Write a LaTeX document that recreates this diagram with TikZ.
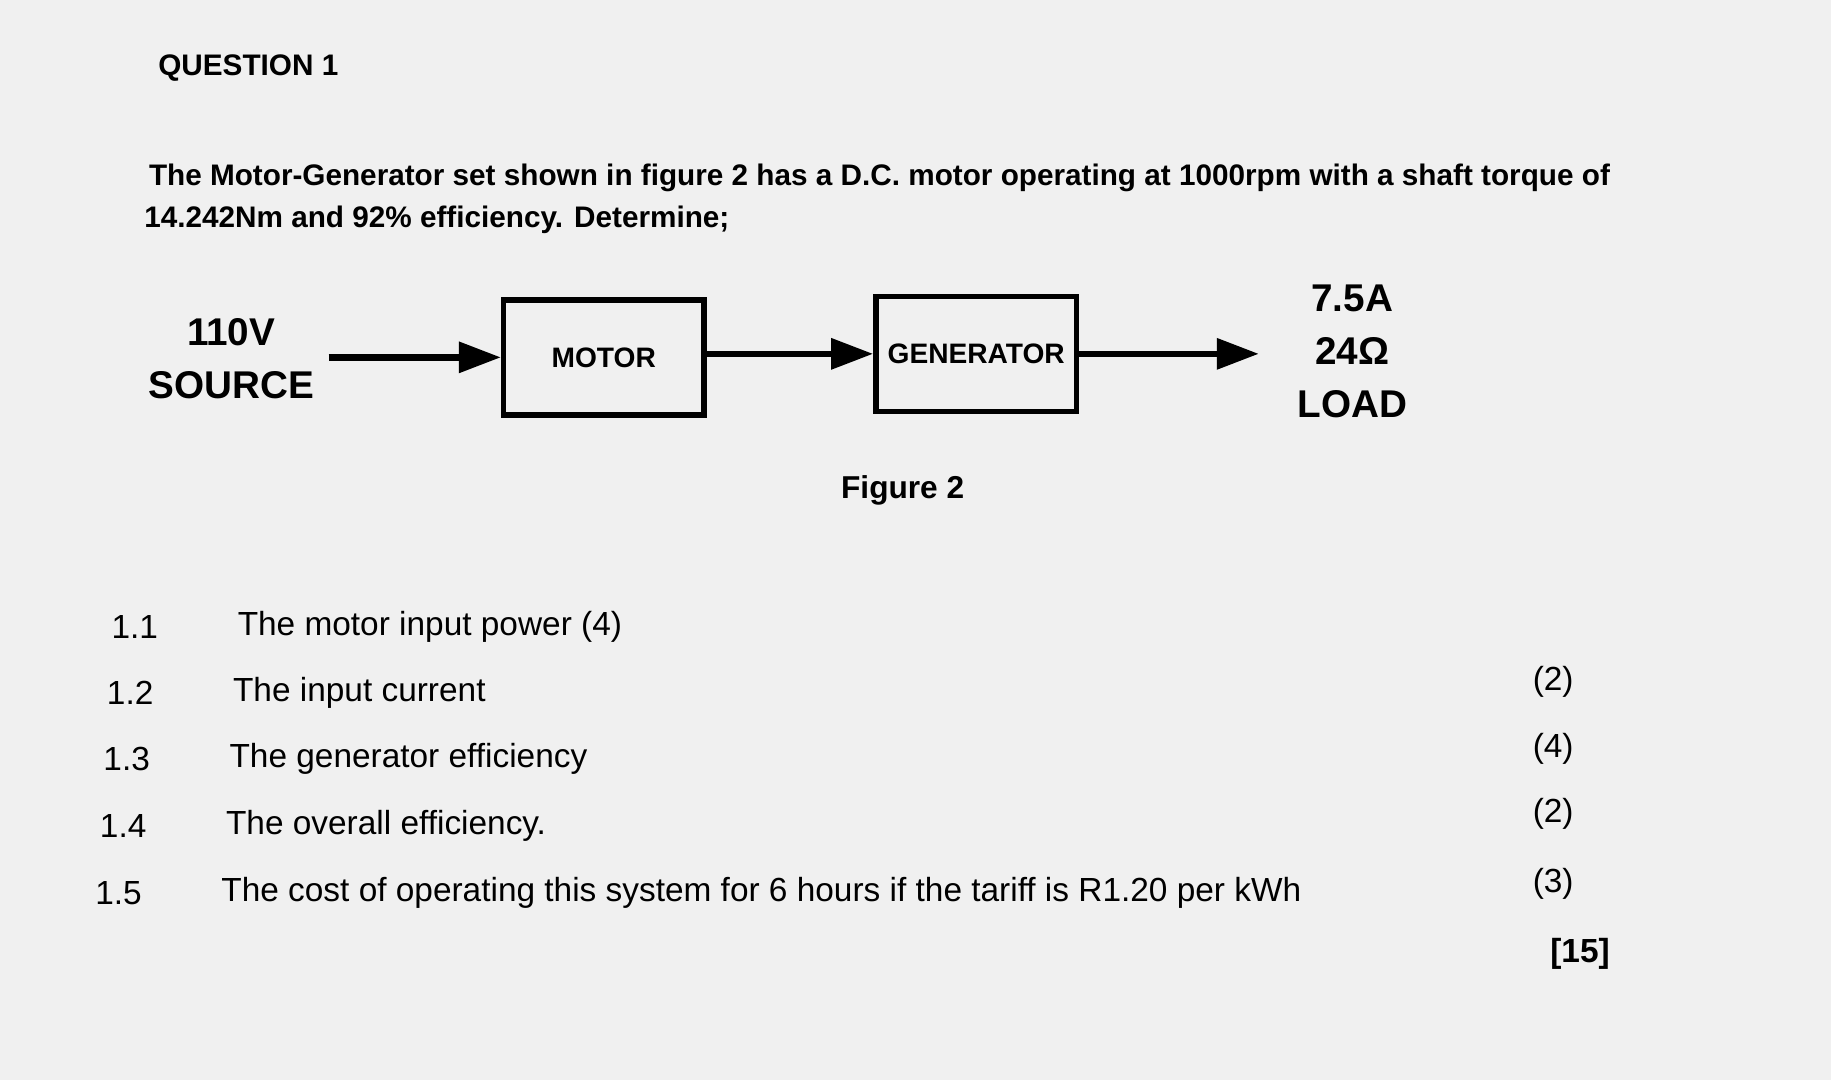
\documentclass[tikz,border=0pt]{standalone}
\usepackage{fontspec}
\setmainfont{Liberation Sans}
\usetikzlibrary{arrows.meta}
\begin{document}
\begin{tikzpicture}[x=0.01168cm,y=-0.01168cm,
  txt/.style={font=\fontsize{9.5pt}{11pt}\selectfont,anchor=west,inner sep=0},
  btxt/.style={txt,font=\fontsize{8.45pt}{10pt}\selectfont\bfseries},
  big/.style={font=\fontsize{11pt}{13pt}\selectfont\bfseries,inner sep=0},
  blk/.style={draw,line width=1.6pt,minimum width=2.0cm,minimum height=1.15cm,font=\fontsize{8pt}{9pt}\selectfont\bfseries},
  arr/.style={line width=1.8pt,-{Triangle[length=0.42cm,width=0.3cm]}}]
\fill[gray!12] (0,0) rectangle (1568,925);
\node[btxt] (q) at (135,58) {QUESTION 1};
\node[btxt] (p1) at (127,152) {The Motor-Generator set shown in figure 2 has a D.C. motor operating at 1000rpm with a shaft torque of};
\node[btxt] (p2) at (123,188) {14.242Nm and 92\% efficiency. Determine;};
\node[big,align=center] (src) at (198,307) {110V\\[2pt]SOURCE};
\node[blk] (mot) at (517,306) {MOTOR};
\node[blk] (gen) at (836,303) {GENERATOR};
\coordinate (lp) at (1078,303);
\node[big,align=center] (load) at (1158,301) {7.5A\\[2pt]24Ω\\[2pt]LOAD};
\draw[arr] (src.east|-mot.west) ++(12,0) -- (mot.west);
\draw[arr] (mot.east|-gen.west) -- (gen.west);
\draw[arr] (gen.east) -- (lp);
\node[font=\fontsize{9pt}{10pt}\selectfont\bfseries] (fig) at (773,420) {Figure 2};
\foreach \n/\t/\xa/\xb/\y in {1.1/The motor input power (4)/95/203/537, 1.2/The input current/91/199/593, 1.3/The generator efficiency/88/196/650, 1.4/The overall efficiency./85/193/707, 1.5/The cost of operating this system for 6 hours if the tariff is R1.20 per kWh/81/189/765}{
  \node[txt] (n\n) at (\xa,\y) {\n};
  \node[txt] (t\n) at (\xb,\y) {\t};
}
\foreach \m/\y/\i in {(2)/584/a,(4)/641/b,(2)/697/c,(3)/757/d}{\node[txt] (m\i) at (1312,\y) {\m};}
\node[btxt,font=\fontsize{9.5pt}{11pt}\selectfont\bfseries] (tot) at (1327,817) {[15]};
\end{tikzpicture}
\end{document}
